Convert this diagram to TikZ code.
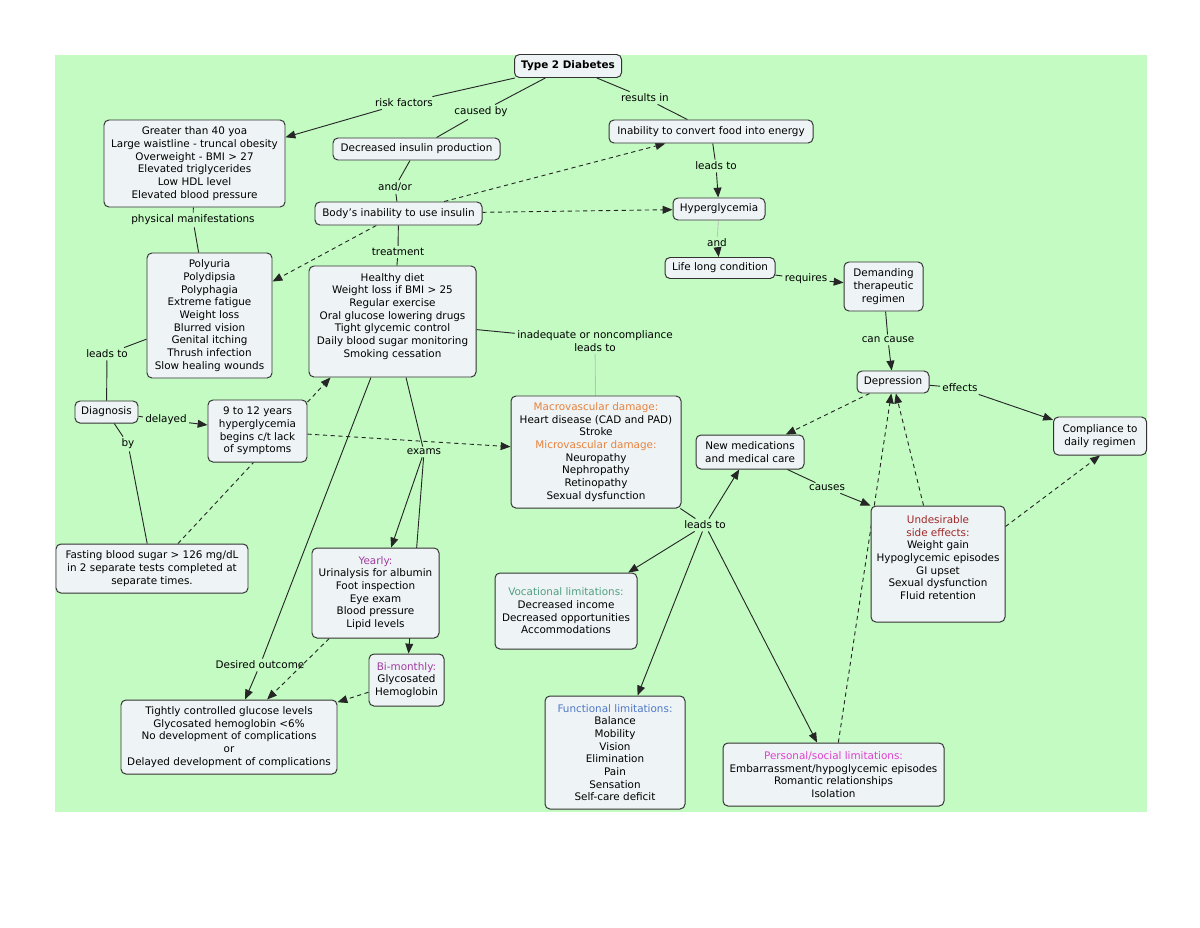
\documentclass[tikz,border=0pt]{standalone}
\usepackage{fontspec}
\setmainfont{DejaVu Sans}
\usepackage{xcolor}
\usetikzlibrary{calc,arrows.meta}

\definecolor{bggreen}{HTML}{C3FBC3}
\definecolor{boxfill}{HTML}{EEF3F5}
\definecolor{macroorange}{HTML}{E8823C}
\definecolor{examspurple}{HTML}{A03CA0}
\definecolor{vocgreen}{HTML}{50A080}
\definecolor{funcblue}{HTML}{5078C8}
\definecolor{persmagenta}{HTML}{E040D0}
\definecolor{undesred}{HTML}{A02828}

\pgfdeclarelayer{bg}
\pgfdeclarelayer{edges}
\pgfsetlayers{bg,edges,main}

\tikzset{
  concept/.style={draw=black!80, fill=boxfill, rounded corners=3.5pt,
                  line width=0.7pt, align=center, inner sep=2pt,
                  font=\fontsize{7.4}{9}\selectfont},
  bw/.style={minimum width=#1*0.025cm},
  bh/.style={minimum height=#1*0.025cm},
  linkph/.style={align=center, inner sep=1.5pt, font=\fontsize{7.4}{9}\selectfont},
  conn/.style={draw=black!85, line width=0.65pt},
  faint/.style={draw=black!25, line width=0.6pt},
  arr/.style={-{Triangle[length=7pt,width=5.6pt]}},
  dsh/.style={dash pattern=on 3pt off 2.5pt}
}

\begin{document}
\begin{tikzpicture}[x=0.025cm, y=-0.025cm]
  % 背景
  \useasboundingbox (0,0) rectangle (1200,927);
  \begin{pgfonlayer}{bg}
    \fill[white] (0,0) rectangle (1200,927);
    \fill[bggreen] (55,55) rectangle (1147,812);
  \end{pgfonlayer}

  % 概念のノード (上段)
  \node[concept, bw=107, bh=23, font=\fontsize{7.4}{9}\selectfont\bfseries] (t2d) at (568,66) {Type 2 Diabetes};
  \node[concept, bw=181, bh=87] (greater) at (194.5,163.5)
    {Greater than 40 yoa\\Large waistline - truncal obesity\\Overweight - BMI > 27\\Elevated triglycerides\\Low HDL level\\Elevated blood pressure};
  \node[concept, bw=167, bh=22] (decr) at (416.5,149) {Decreased insulin production};
  \node[concept, bw=204, bh=23] (energy) at (711,131.5) {Inability to convert food into energy};
  \node[concept, bw=167, bh=23] (body) at (398.5,213.5) {Body's inability to use insulin};
  \node[concept, bw=92, bh=22] (hyper) at (719,209) {Hyperglycemia};
  \node[concept, bw=110, bh=21] (life) at (720,268) {Life long condition};
  \node[concept, bw=79, bh=49] (demand) at (883.5,286.5) {Demanding\\therapeutic\\regimen};
  \node[concept, bw=72, bh=22] (depr) at (893,382) {Depression};
  \node[concept, bw=93, bh=38] (compl) at (1100,436) {Compliance to\\daily regimen};

  % 概念のノード (左側)
  \node[concept, bw=125, bh=125] (poly) at (209.5,315.5)
    {Polyuria\\Polydipsia\\Polyphagia\\Extreme fatigue\\Weight loss\\Blurred vision\\Genital itching\\Thrush infection\\Slow healing wounds};
  \node[concept, bw=167, bh=111] (healthy) at (392.5,321.5)
    {Healthy diet\\Weight loss if BMI > 25\\Regular exercise\\Oral glucose lowering drugs\\Tight glycemic control\\Daily blood sugar monitoring\\Smoking cessation\\\mbox{}};
  \node[concept, bw=63, bh=22] (diag) at (106.5,412) {Diagnosis};
  \node[concept, bw=99, bh=62] (nine) at (257.5,431) {9 to 12 years\\hyperglycemia\\begins c/t lack\\of symptoms};
  \node[concept, bw=192, bh=49] (fasting) at (152,568.5)
    {Fasting blood sugar > 126 mg/dL\\in 2 separate tests completed at\\separate times.};
  \node[concept, bw=127, bh=90] (yearly) at (375.5,593)
    {\textcolor{examspurple}{Yearly:}\\Urinalysis for albumin\\Foot inspection\\Eye exam\\Blood pressure\\Lipid levels};
  \node[concept, bw=75, bh=52] (bimon) at (406.5,680)
    {\textcolor{examspurple}{Bi-monthly:}\\Glycosated\\Hemoglobin};
  \node[concept, bw=216, bh=74] (tight) at (229,737)
    {Tightly controlled glucose levels\\Glycosated hemoglobin <6\%\\No development of complications\\or\\Delayed development of complications};

  % 概念のノード (合併症まわり)
  \node[concept, bw=170, bh=112] (macro) at (596,452)
    {\textcolor{macroorange}{Macrovascular damage:}\\Heart disease (CAD and PAD)\\Stroke\\\textcolor{macroorange}{Microvascular damage:}\\Neuropathy\\Nephropathy\\Retinopathy\\Sexual dysfunction};
  \node[concept, bw=108, bh=34] (newmed) at (750,452) {New medications\\and medical care};
  \node[concept, bw=134, bh=116] (undes) at (938,564)
    {\textcolor{undesred}{Undesirable}\\\textcolor{undesred}{side effects:}\\Weight gain\\Hypoglycemic episodes\\GI upset\\Sexual dysfunction\\Fluid retention\\\mbox{}};
  \node[concept, bw=142, bh=76] (voc) at (566,611)
    {\textcolor{vocgreen}{Vocational limitations:}\\Decreased income\\Decreased opportunities\\Accommodations};
  \node[concept, bw=140, bh=113] (func) at (615,752.5)
    {\textcolor{funcblue}{Functional limitations:}\\Balance\\Mobility\\Vision\\Elimination\\Pain\\Sensation\\Self-care deficit};
  \node[concept, bw=221, bh=63] (pers) at (833.5,774.5)
    {\textcolor{persmagenta}{Personal/social limitations:}\\Embarrassment/hypoglycemic episodes\\Romantic relationships\\Isolation};

  % リンクの語句
  \node[linkph] (lrisk) at (404,103) {risk factors};
  \node[linkph] (lcaused) at (481,112) {caused by};
  \node[linkph] (lresults) at (645,98) {results in};
  \node[linkph] (landor) at (395,187) {and/or};
  \node[linkph] (lphys) at (193,220) {physical manifestations};
  \node[linkph] (ltreat) at (398,252) {treatment};
  \node[linkph] (lleadsA) at (716,166) {leads to};
  \node[linkph] (land) at (717,243) {and};
  \node[linkph] (lreq) at (806,279) {requires};
  \node[linkph] (lcan) at (888,340) {can cause};
  \node[linkph] (leff) at (960,388) {effects};
  \node[linkph] (lleadsB) at (107,354) {leads to};
  \node[linkph] (ldelay) at (166,420) {delayed};
  \node[linkph] (lby) at (128,444) {by};
  \node[linkph] (linadq) at (595,341) {inadequate or noncompliance\\leads to};
  \node[linkph] (lexams) at (424,452) {exams};
  \node[linkph] (ldesired) at (260,665) {Desired outcome};
  \node[linkph] (lleadsC) at (705,525) {leads to};
  \node[linkph] (lcauses) at (827,488) {causes};

  \begin{pgfonlayer}{edges}
    % 実線の接続
    \draw[conn] (t2d) -- (lrisk);
    \draw[conn, arr] (lrisk) -- (greater);
    \draw[conn] (t2d) -- (lcaused);
    \draw[conn] (lcaused) -- (decr);
    \draw[conn] (t2d) -- (lresults);
    \draw[conn] (lresults) -- (energy);
    \draw[conn] (decr) -- (landor);
    \draw[conn] (landor) -- (body);
    \draw[conn] (greater) -- (lphys);
    \draw[conn] (lphys) -- (poly);
    \draw[conn] (body) -- (ltreat);
    \draw[conn] (ltreat) -- (healthy);
    \draw[conn] (energy) -- (lleadsA);
    \draw[conn, arr] (lleadsA) -- (hyper);
    \draw[faint] (hyper) -- (land);
    \draw[conn, arr] (land) -- (life);
    \draw[conn] (life) -- (lreq);
    \draw[conn, arr] (lreq) -- (demand);
    \draw[conn] (demand) -- (lcan);
    \draw[conn, arr] (lcan) -- (depr);
    \draw[conn] (depr) -- (leff);
    \draw[conn, arr] (leff) -- (compl);
    \draw[conn] (poly) -- (lleadsB);
    \draw[conn] (lleadsB) -- (diag);
    \draw[conn] (diag) -- (ldelay);
    \draw[conn, arr] (ldelay) -- (nine);
    \draw[conn] (diag) -- (lby);
    \draw[conn] (lby) -- (fasting);
    \draw[conn] (healthy) -- (lexams);
    \draw[conn, arr] (lexams) -- (yearly);
    \draw[conn, arr] (lexams) -- (bimon);
    \draw[conn] (healthy) -- (ldesired);
    \draw[conn, arr] (ldesired) -- (tight);
    \draw[conn] (healthy) -- (linadq);
    \draw[faint] (linadq) -- (macro);
    \draw[conn] (macro) -- (lleadsC);
    \draw[conn, arr] (lleadsC) -- (newmed);
    \draw[conn, arr] (lleadsC) -- (voc);
    \draw[conn, arr] (lleadsC) -- (func);
    \draw[conn, arr] (lleadsC) -- (pers);
    \draw[conn] (newmed) -- (lcauses);
    \draw[conn, arr] (lcauses) -- (undes.north west);

    % 破線の接続
    \draw[conn, dsh, arr] (body) -- (energy);
    \draw[conn, dsh, arr] (body) -- (hyper);
    \draw[conn, dsh, arr] (body) -- (poly);
    \draw[conn, dsh, arr] (nine.30) -- ($(healthy.south west)+(22,0)$);
    \draw[conn, dsh, arr] (nine) -- (macro);
    \draw[conn, dsh] ($(fasting.north)+(26,0)$) -- ($(nine.south)+(-4,0)$);
    \draw[conn, dsh, arr] (yearly) -- (tight);
    \draw[conn, dsh, arr] (bimon) -- (tight);
    \draw[conn, dsh, arr] (depr) -- (newmed);
    \draw[conn, dsh, arr] ($(undes.north east)+(0,21)$) -- (compl.south);
    \draw[conn, dsh, arr] (undes) -- (depr);
    \draw[conn, dsh, arr] (pers) -- (depr);
  \end{pgfonlayer}
\end{tikzpicture}
\end{document}
